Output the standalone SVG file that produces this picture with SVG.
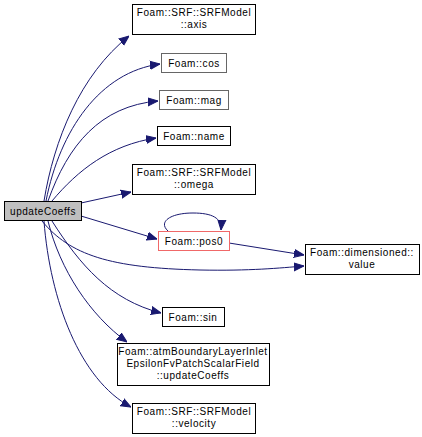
<svg xmlns="http://www.w3.org/2000/svg" width="422" height="437" viewBox="0 0 422 437">
<defs>
<style>
.n{fill:#ffffff;stroke:#000000;stroke-width:1}
.g{fill:#ffffff;stroke:#666666;stroke-width:1}
.r{fill:#ffffff;stroke:#f06868;stroke-width:1}
.root{fill:#bfbfbf;stroke:#000000;stroke-width:1}
text{font-family:"Liberation Sans",Arial,sans-serif;font-size:10px;letter-spacing:0.55px;fill:#000000;text-anchor:middle}
.e{fill:none;stroke:#191970;stroke-width:1;marker-end:url(#ah)}
</style>
<marker id="ah" viewBox="0 0 10 10" refX="10" refY="5" markerWidth="10" markerHeight="10" markerUnits="userSpaceOnUse" orient="auto">
<path d="M0,1 L10,5 L0,9 Z" fill="#191970" stroke="#191970"/>
</marker>
</defs>
<rect width="422" height="437" fill="#ffffff"/>
<g id="edges">
<path class="e" d="M44,201 C54,140 80,75 129,36"/>
<path class="e" d="M46,201 C60,130 100,72 160,64"/>
<path class="e" d="M48,201 C68,145 100,106 158,101"/>
<path class="e" d="M52,201 C78,170 110,145 156,138"/>
<path class="e" d="M81,203 L131,192"/>
<path class="e" d="M81,216 L157,239"/>
<path class="e" d="M168,231 C158,222 170,213 193,213 C212,213 222,218 221,230"/>
<path class="e" d="M229,243 L304,255"/>
<path class="e" d="M42,221 C70,255 110,268 200,270 C250,271 280,268 304,266"/>
<path class="e" d="M52,221 C80,265 110,300 161,313"/>
<path class="e" d="M48,221 C60,270 90,315 127,342"/>
<path class="e" d="M44,221 C50,300 80,380 131,407"/>
</g>
<g id="updateCoeffs"><rect class="root" x="4.5" y="201.5" width="77" height="19"/><text x="43" y="214.5">updateCoeffs</text></g>
<g id="axis"><rect class="n" x="132.5" y="4.5" width="123" height="30"/><text x="194" y="16">Foam::SRF::SRFModel</text><text x="194" y="28">::axis</text></g>
<g id="cos"><rect class="g" x="161.5" y="53.5" width="65" height="19"/><text x="194" y="66.5">Foam::cos</text></g>
<g id="mag"><rect class="g" x="159.5" y="90.5" width="69" height="19"/><text x="194" y="103.5">Foam::mag</text></g>
<g id="name"><rect class="n" x="157.5" y="126.5" width="73" height="19"/><text x="194" y="139.5">Foam::name</text></g>
<g id="omega"><rect class="n" x="132.5" y="164.5" width="123" height="30"/><text x="194" y="176">Foam::SRF::SRFModel</text><text x="194" y="188">::omega</text></g>
<g id="pos0"><rect class="r" x="158.5" y="231.5" width="71" height="19"/><text x="194" y="244.5">Foam::pos0</text></g>
<g id="value"><rect class="n" x="305.5" y="244.5" width="114" height="30"/><text x="362" y="256">Foam::dimensioned::</text><text x="362" y="268">value</text></g>
<g id="sin"><rect class="n" x="162.5" y="307.5" width="62" height="19"/><text x="193" y="320.5">Foam::sin</text></g>
<g id="atm"><rect class="n" x="117.5" y="343.5" width="152" height="42"/><text x="193" y="355">Foam::atmBoundaryLayerInlet</text><text x="193" y="367">EpsilonFvPatchScalarField</text><text x="193" y="379">::updateCoeffs</text></g>
<g id="velocity"><rect class="n" x="132.5" y="403.5" width="123" height="30"/><text x="194" y="415">Foam::SRF::SRFModel</text><text x="194" y="427">::velocity</text></g>
</svg>
